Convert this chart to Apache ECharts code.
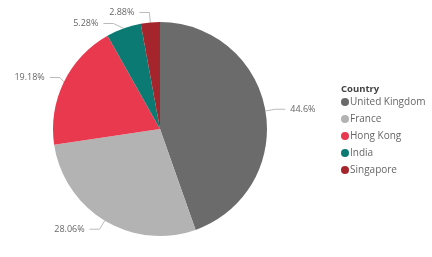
<!DOCTYPE html>
<html><head><meta charset="utf-8">
<script src="https://cdn.jsdelivr.net/npm/echarts@6/dist/echarts.min.js"></script>
<style>html,body{margin:0;padding:0;background:#fff}#c{width:432px;height:257px}</style>
</head><body><div id="c"></div>
<script>
const categories = ['United Kingdom','France','Hong Kong','India','Singapore'];
const values = [44.6, 28.06, 19.18, 5.28, 2.88];
const colors = ['#6B6B6B','#B3B3B3','#E8394F','#0B7A73','#A4262C'];
const legendTitle = 'Country';

const chart = echarts.init(document.getElementById('c'));
chart.setOption({
  animation:false,
  color: colors,
  title:{text:legendTitle,left:336,top:79,textStyle:{fontFamily:'Open Sans',fontSize:9.5,fontWeight:'bold',color:'#444'}},
  legend:{orient:'vertical',left:336,top:92,itemGap:7,itemWidth:8,itemHeight:8,icon:'circle',
    textStyle:{fontFamily:'Open Sans',fontSize:10,color:'#666',padding:[0,0,0,-4]},
    data:categories},
  series:[{type:'pie',center:[160,129],radius:[0,107],startAngle:90,clockwise:true,
    label:{formatter:'{c}%',fontFamily:'Open Sans',fontSize:9,color:'#666'},
    labelLine:{length:10,length2:10,lineStyle:{color:'#bbb',width:1}},
    itemStyle:{borderWidth:0},
    emphasis:{disabled:true},
    data:categories.map((n,i)=>({name:n,value:values[i]}))}]
});
</script></body></html>
